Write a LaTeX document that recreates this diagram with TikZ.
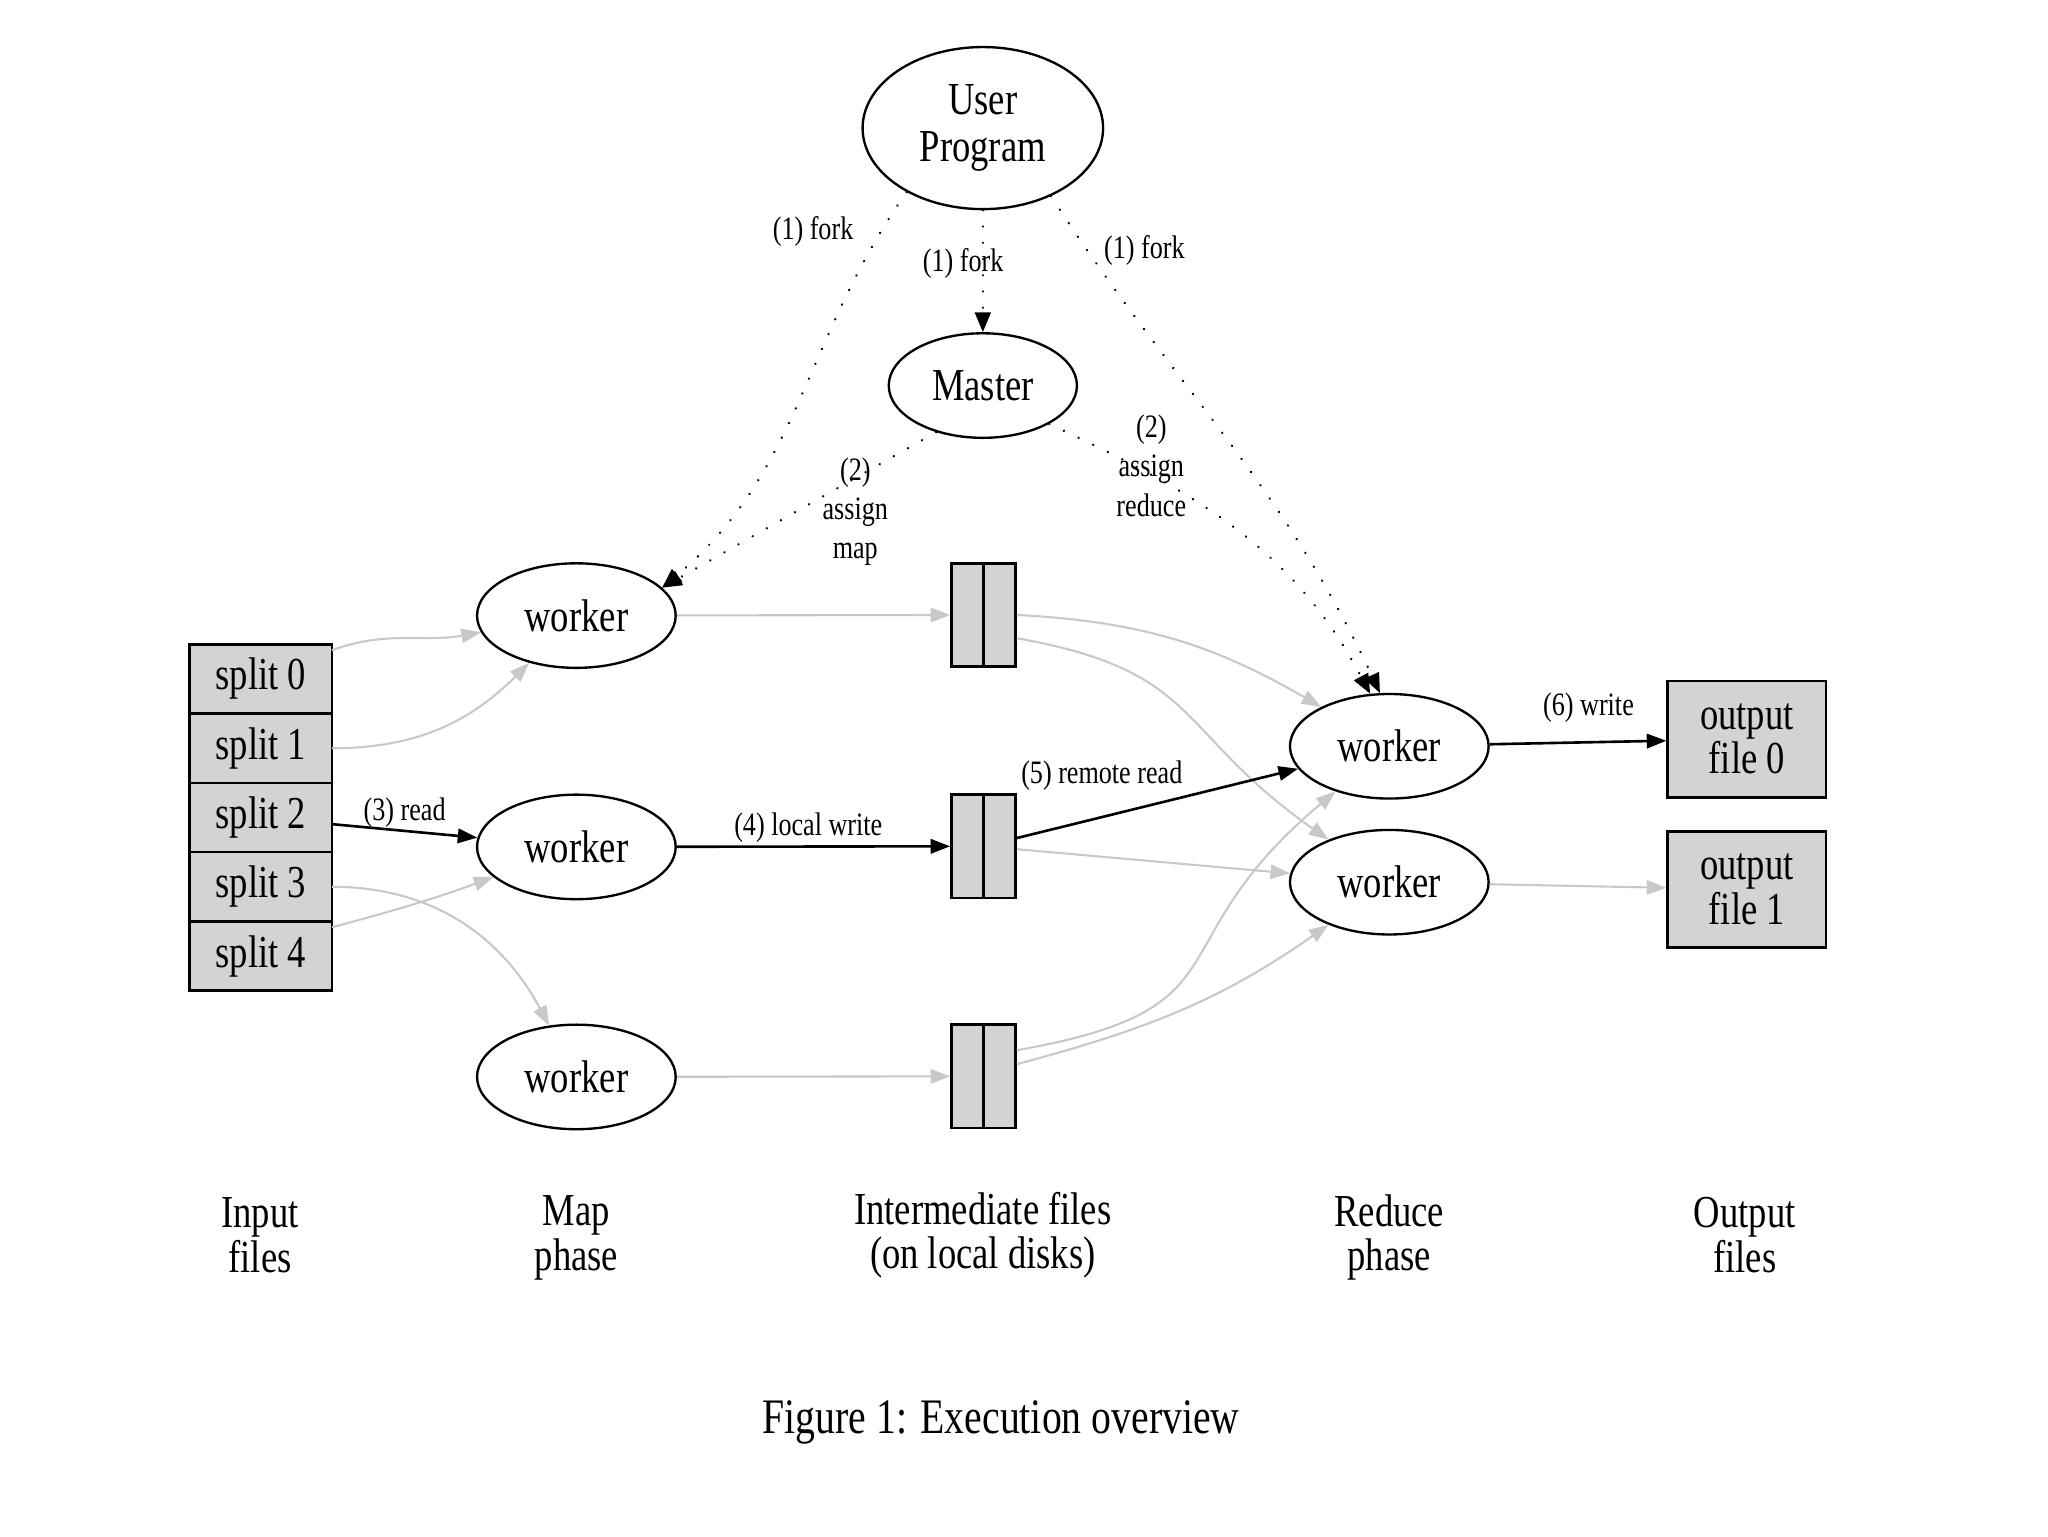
\documentclass[tikz,border=0pt]{standalone}
\usepackage{fontspec}
\setmainfont{Liberation Serif}[FakeStretch=0.8]
\usetikzlibrary{shapes.geometric,arrows.meta,positioning}
\definecolor{boxfill}{HTML}{D3D3D3}
\definecolor{faint}{HTML}{C8C8C8}
\newcommand\bigtxt{\fontsize{17.5}{17}\selectfont}
\newcommand\smalltxt{\fontsize{12.5}{15}\selectfont}

\begin{document}
\begin{tikzpicture}[x=0.5pt, y=-0.5pt, node distance=0pt,
    worker/.style={ellipse, draw, line width=0.9pt, minimum width=76pt, minimum height=40pt, inner sep=1pt, font=\bigtxt},
    splitbox/.style={rectangle, draw, fill=boxfill, line width=1pt, minimum width=54.5pt, minimum height=26.5pt, inner sep=0pt, outer sep=0pt, font=\bigtxt},
    diskbox/.style={rectangle, draw, fill=boxfill, line width=1pt, minimum width=24.5pt, minimum height=39.5pt, inner sep=0pt,
        path picture={\draw[line width=1pt] (path picture bounding box.north) -- (path picture bounding box.south);}},
    outbox/.style={rectangle, draw, fill=boxfill, line width=1pt, minimum width=60.5pt, minimum height=44.5pt, inner sep=0pt, align=center, font=\bigtxt},
    caption/.style={align=center, font=\bigtxt},
    lbl/.style={font=\smalltxt, inner sep=1pt, align=center},
    ctrl/.style={draw=black, line width=1pt, line cap=round, dash pattern=on 0.01pt off 6.2pt, -{Triangle[length=7.5pt,width=6pt]}},
    flow/.style={draw=faint, line width=0.8pt, -{Triangle[length=7.5pt,width=5.5pt]}},
    active/.style={draw=black, line width=1pt, -{Triangle[length=7.5pt,width=5.5pt]}}]
    \useasboundingbox (0,0) rectangle (1567,1175.25);
                    \node (up) [ellipse, draw, line width=0.9pt, minimum width=92pt, minimum height=62pt, inner sep=0pt, align=center,
                        font=\fontsize{17.5}{18}\selectfont] at (752,98) {User\\Program};
                    \node (m) [worker, minimum width=72pt] at (752,295) {Master};
                    \node (s0) [splitbox] at (199.5,519.5) {split 0};
                    \node (s1) [splitbox, below=of s0] {split 1};
                    \node (s2) [splitbox, below=of s1] {split 2};
                    \node (s3) [splitbox, below=of s2] {split 3};
                    \node (s4) [splitbox, below=of s3] {split 4};
                    \node (w1) [worker] at (441,471) {worker};
                    \node (w2) [worker] at (441,648) {worker};
                    \node (w3) [worker] at (441,824) {worker};
                    \node (f1) [diskbox] at (752.5,470.5) {};
                    \node (f2) [diskbox] at (752.5,647.5) {};
                    \node (f3) [diskbox] at (752.5,823.5) {};
                    \node (r1) [worker] at (1063,571) {worker};
                    \node (r2) [worker] at (1063,675) {worker};
                    \node (o0) [outbox] at (1336.5,565.5) {output\\file 0};
                    \node (o1) [outbox, below=12pt of o0] {output\\file 1};
                    \node (cin) [caption] at (199,945) {Input\\files};
                    \node (cmap) [caption] at (441,947) {Map\\phase};
                    \node (cmid) [caption] at (752,945) {Intermediate files\\(on local disks)};
                    \node (cred) [caption] at (1063,947) {Reduce\\phase};
                    \node (cout) [caption] at (1335,945) {Output\\files};
                    \node (fig) [caption, font=\fontsize{19}{19}\selectfont] at (766,1088) {Figure 1: Execution overview};
                    % (1) fork, (2) assign
                    \path (up.-140) edge[ctrl,out=-125,in=40] node[lbl,pos=0.08,anchor=east,xshift=-10pt,yshift=-1.5pt] {(1) fork} (w1.18);
                    \path (up) edge[ctrl] node[lbl,midway,xshift=-7.5pt,yshift=3pt] {(1) fork} (m);
                    \path (up.-45) edge[ctrl,out=-57,in=115] node[lbl,pos=0.09,anchor=west,xshift=6pt,yshift=-1.5pt] {(1) fork} (r1.100);
                    \path (m.-135) edge[ctrl] node[lbl,pos=0.3,xshift=0.5pt,yshift=-12.5pt] {(2)\\assign\\map} (w1.18);
                    \path (m.-30) edge[ctrl,out=-25,in=118] node[lbl,pos=0.3,xshift=-7pt,yshift=7.5pt] {(2)\\assign\\reduce} (r1.110);
                    % splits to map workers
                    \path (s0.22) edge[flow,out=20,in=190] (w1);
                    \path (s1.east) edge[flow,out=0,in=-135] (w1);
                    \path (s2) edge[active] node[lbl,midway,above] {(3) read} (w2);
                    \path (s3.east) edge[flow,out=0,in=118] (w3);
                    \path (s4.22) edge[flow,out=15,in=200] (w2);
                    % map workers to local disks
                    \path (w1) edge[flow] (f1);
                    \path (w2) edge[active] node[lbl,midway,above,xshift=-2pt] {(4) local write} (f2);
                    \path (w3) edge[flow] (f3);
                    % local disks to reduce workers
                    \path (f1.east) edge[flow,out=-3,in=150] (r1);
                    \path (f1.-35) edge[flow,out=-10,in=145,looseness=1.3] (r2);
                    \path (f2) edge[active] node[lbl,pos=0.33,above=6pt,xshift=-3pt,yshift=2pt] {(5) remote read} (r1);
                    \path (f2) edge[flow] (r2);
                    \path (f3.38) edge[flow,out=10,in=-140,looseness=1.5] (r1);
                    \path (f3.20) edge[flow,out=15,in=-145] (r2);
                    % reduce workers to output files
                    \path (r1) edge[active] node[lbl,midway,above=6pt,xshift=4pt] {(6) write} (o0);
                    \path (r2) edge[flow] (o1);
                \end{tikzpicture}
\end{document}
